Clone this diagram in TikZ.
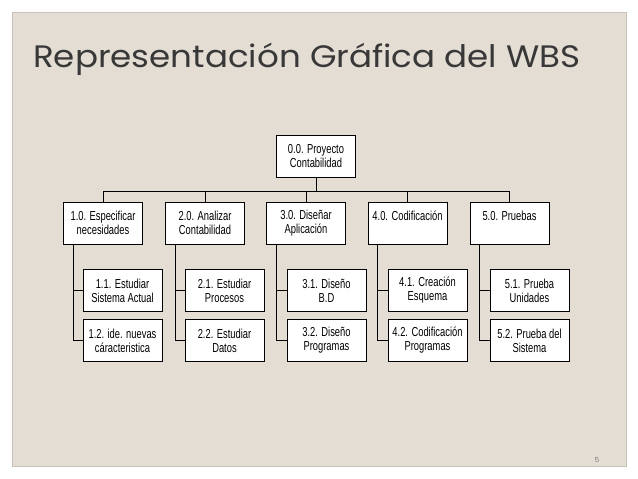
\documentclass[tikz,border=0pt]{standalone}
\usepackage{fontspec}
\usepackage{tikz}
\newfontfamily\titlefont[FakeStretch=1.1]{Poppins}
\newfontfamily\boxfont[FakeStretch=0.72]{Liberation Sans}
\definecolor{slidebg}{HTML}{E3DDD3}
\definecolor{slideedge}{HTML}{C9C3B9}
\definecolor{titlegray}{HTML}{383838}

\begin{document}
\begin{tikzpicture}[x=1pt,y=-1pt,
  wbs/.style={draw,fill=white,line width=0.8pt,minimum width=79pt,minimum height=42pt,
    inner sep=0pt,align=center,font=\boxfont\fontsize{13}{14}\selectfont}]
\useasboundingbox (0,0) rectangle (638,479);
\filldraw[fill=slidebg,draw=slideedge] (12,12) rectangle (626,466);
\node[anchor=base west,inner sep=0pt,text=titlegray,font=\titlefont\fontsize{31}{31}\selectfont] (title) at (33,67) {Representación Gráfica del WBS};
\node[text=gray,font=\titlefont\fontsize{7}{7}\selectfont] (pagenum) at (597,460) {5};
% level 0
\node[wbs] (n00) at (316,156) {0.0. Proyecto\\Contabilidad};
% level 1
\node[wbs] (n10) at (103,223) {1.0. Especificar\\necesidades};
\node[wbs] (n20) at (205,223) {2.0. Analizar\\Contabilidad};
\node[wbs] (n30) at (306,223) {3.0. Diseñar\\Aplicación};
\node[wbs] (n40) at (407.5,223) {4.0. Codificación\\\mbox{}};
\node[wbs] (n50) at (509.5,223) {5.0. Pruebas\\\mbox{}};
% level 2
\node[wbs] (n11) at (122.5,290.5) {1.1. Estudiar\\Sistema Actual};
\node[wbs] (n12) at (122.5,340.5) {1.2. ide. nuevas\\cáracteristica};
\node[wbs] (n21) at (224.5,290.5) {2.1. Estudiar\\Procesos};
\node[wbs] (n22) at (224.5,340.5) {2.2. Estudiar\\Datos};
\node[wbs] (n31) at (326.5,290.5) {3.1. Diseño\\B.D};
\node[wbs] (n32) at (326.5,340.5) {3.2. Diseño\\Programas};
\node[wbs] (n41) at (427.5,290.5) {4.1. Creación\\Esquema};
\node[wbs] (n42) at (427.5,340.5) {4.2. Codificación\\Programas};
\node[wbs] (n51) at (529.5,290.5) {5.1. Prueba\\Unidades};
\node[wbs] (n52) at (529.5,340.5) {5.2. Prueba del\\Sistema};
% connectors
\coordinate (bar) at (0,191);
\draw[line width=0.8pt] (n00.south) -- (n00.south |- bar);
\draw[line width=0.8pt] (n10.north) -- (n10.north |- bar) -- (n50.north |- bar) -- (n50.north);
\draw[line width=0.8pt] (n20.north) -- (n20.north |- bar);
\draw[line width=0.8pt] (n30.north) -- (n30.north |- bar);
\draw[line width=0.8pt] (n40.north) -- (n40.north |- bar);
\draw[line width=0.8pt] ([xshift=10pt]n10.south west) |- (n12.west);
\draw[line width=0.8pt] ([xshift=10pt]n10.south west |- n11.west) -- (n11.west);
\draw[line width=0.8pt] ([xshift=10pt]n20.south west) |- (n22.west);
\draw[line width=0.8pt] ([xshift=10pt]n20.south west |- n21.west) -- (n21.west);
\draw[line width=0.8pt] ([xshift=10pt]n30.south west) |- (n32.west);
\draw[line width=0.8pt] ([xshift=10pt]n30.south west |- n31.west) -- (n31.west);
\draw[line width=0.8pt] ([xshift=10pt]n40.south west) |- (n42.west);
\draw[line width=0.8pt] ([xshift=10pt]n40.south west |- n41.west) -- (n41.west);
\draw[line width=0.8pt] ([xshift=10pt]n50.south west) |- (n52.west);
\draw[line width=0.8pt] ([xshift=10pt]n50.south west |- n51.west) -- (n51.west);
\end{tikzpicture}
\end{document}
